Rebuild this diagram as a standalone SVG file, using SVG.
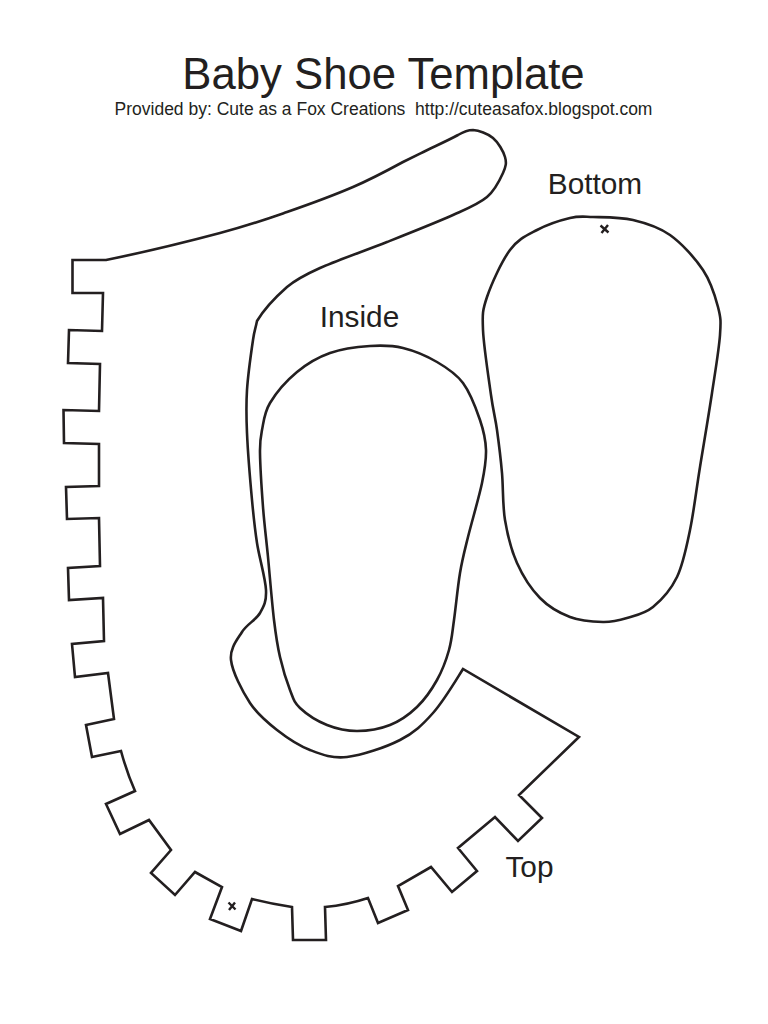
<svg xmlns="http://www.w3.org/2000/svg" width="768" height="1024" viewBox="0 0 768 1024">
<style>
.o{fill:none;stroke:#231f20;stroke-width:2.6;stroke-linejoin:miter}
.x{fill:none;stroke:#231f20;stroke-width:2.4}
text{font-family:"Liberation Sans",Arial,sans-serif;fill:#231f20}
.l{font-size:29.800px}
</style>
<rect width="768" height="1024" fill="#fff"/>
<g id="title"><text x="383.500" y="89" font-size="43.700" text-anchor="middle">Baby Shoe Template</text></g>
<g id="subtitle"><text x="383.500" y="115" font-size="17.500" text-anchor="middle" xml:space="preserve">Provided by: Cute as a Fox Creations  http://cuteasafox.blogspot.com</text></g>
<g id="top-piece">
<path class="o" d="M106 260L72.500 260L72.500 293L103 293L102 331L69 330L68 363L100 364L99 411L63.500 410L64 443L99 444L99 486L66 487L67 519L99 518L100 566L68 568L69 600L103 598L104 641L72 644L75 677L108 673L114 719L86 725L92 757L121 751Q127 773 135 791L106 804L120 834L149 820L171 850L151 873L175 895L195 872L222 887L210 919L241 931L252 899Q272 904 292 907L293 940L326 940L325 907Q347 905 368 898L378 923L408 910L398 886L431 867L452 892L477 871L458 848L495 817L518 841L542 818L519 795L579 737L463 669C453 685 443.500 701.200 433 713S414.300 732.700 400 740S362 755.300 347 757S321.700 754.500 310 750S287 737.800 277 730S257.700 714.700 250 703S232.300 671.800 231 660S237.200 639.800 242 632S256 620 260 613S266.500 601.700 266 590S259.300 558 257 543S253.700 518.300 252 500S247.800 451.300 247 433S246 405.500 247 390S251.300 351.500 253 340S255 331 257 321C263 311 270 302 287 287C293 282 303.300 275.500 320 268S364.800 250.800 387 242S436.300 222.500 453 215S478.700 204 487 197S500 179.700 503 173S506.700 162.800 505 157S498.300 142.500 493 138S478.800 130.500 473 130C467 130 463 132 458 135C445 142 433 147 420.500 153.300L403 162S372.300 178.700 353 187S309.200 204.300 287 212S250 225 220 233S150 251 106 260Z"/>
<path class="x" d="M228.500 902.500L235.500 909.500M235 902.500L229 910"/>
</g>
<g id="inside-piece">
<path class="o" d="M370 346C382.200 345.200 391.800 345.300 403 348S427 356.200 437 362S455.800 373.300 463 383S476.200 408.800 480 420S485.700 439.500 486 450S485 468.500 482 483S471.700 522 468 537S462.300 559.200 460 573S455.800 607.200 454 620S451.800 640 449 650S442.300 670.500 437 680S424.800 699.500 417 707S400 721 390 725S367.500 731 357 731S336.500 728.800 327 725S306.200 713.800 300 708S293.300 698.500 290 690S282.700 668.700 280 657S276 636.700 274 620S269.800 575.800 268 557S264.300 524.300 263 507S260.200 465.800 260 453S260.300 438.300 262 430S264.200 412.700 270 403S287 380.300 297 372S317.800 357.300 330 353S357.800 346.800 370 346Z"/>
<text class="l" x="359.500" y="327" text-anchor="middle">Inside</text>
</g>
<g id="bottom-piece">
<path class="o" d="M593 217C603.500 217.300 620.200 217 633 220S658.300 226.700 670 235S695 258 703 270S715.200 296.200 718 307S721 320.700 720 335S715.300 371 712 393S703.700 444.200 700 467S693.800 511.700 690 530S683.200 564.200 677 577S661.300 600.200 653 607S635.300 615.500 627 618S612.500 622.200 603 622S580.500 621 570 617S548.800 607 540 598S522.800 576 517 563S507.500 535 505 520S503.300 488 502 473S498.800 443 497 430S493.300 411.700 491 395S483.700 346.300 483 330S482.500 310.300 487 297S501.700 261.200 510 250S527 235.300 537 230S560.700 220.200 570 218S582.500 216.700 593 217Z"/>
<path class="x" d="M600.500 225.500L608.500 232.500M608 225L601.500 233"/>
<text class="l" x="595" y="194" text-anchor="middle">Bottom</text>
</g>
<g id="top-label"><text class="l" x="529.500" y="877" text-anchor="middle">Top</text></g>
</svg>
